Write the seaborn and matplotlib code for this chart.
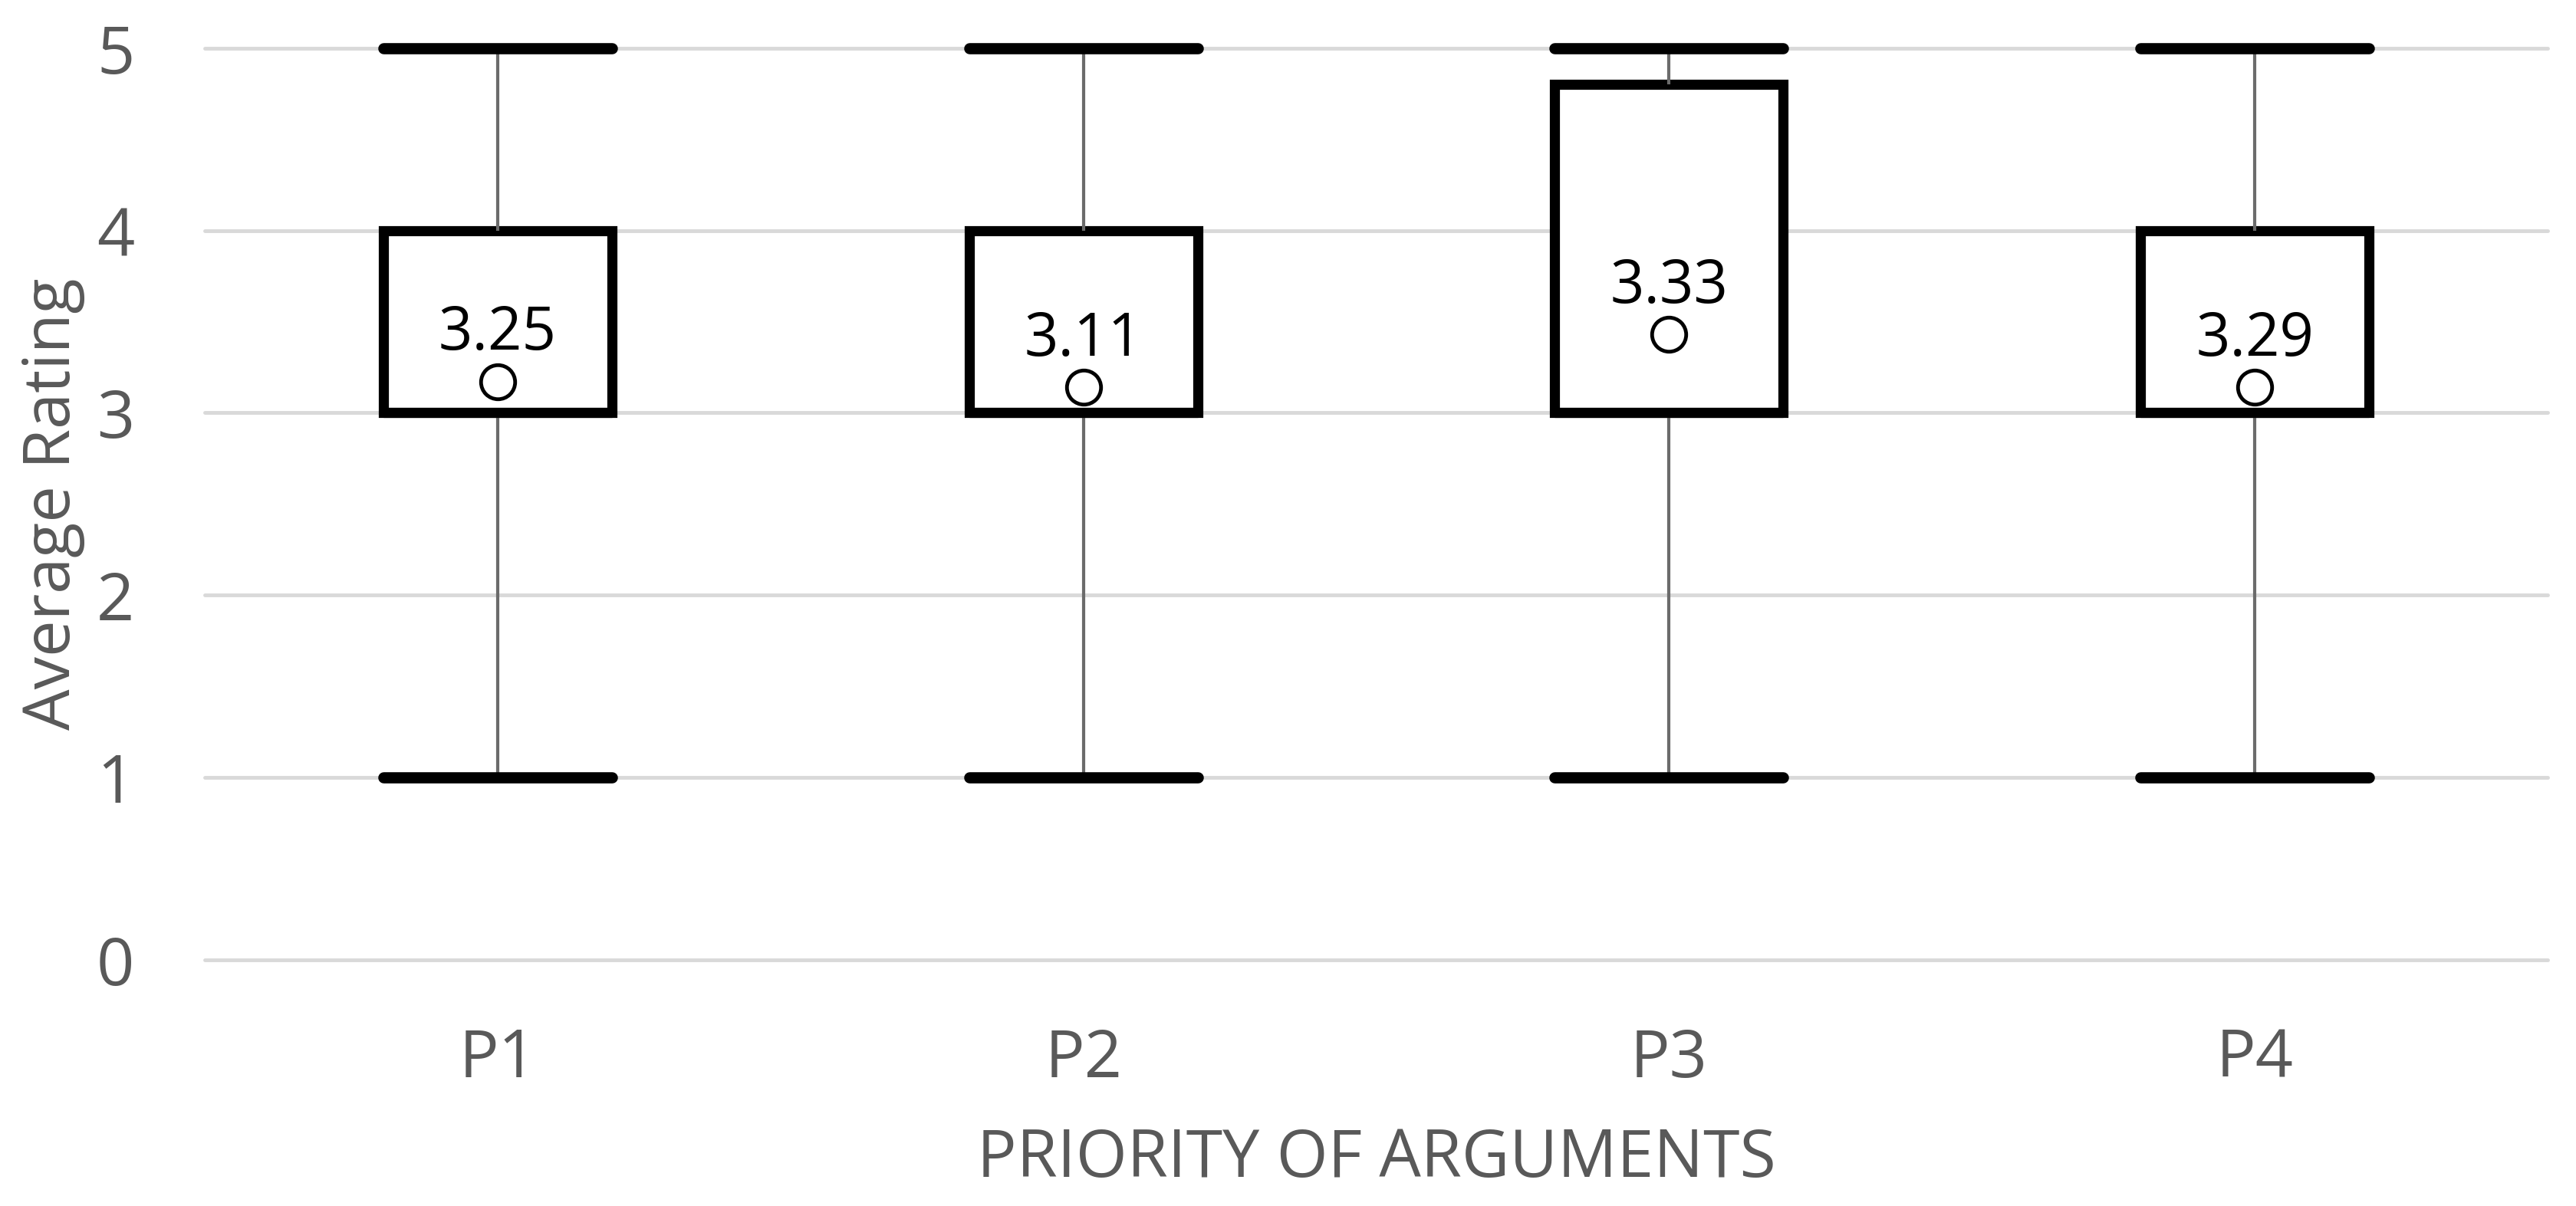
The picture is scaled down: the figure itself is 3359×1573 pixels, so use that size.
import matplotlib.pyplot as plt
import pandas as pd
import seaborn as sns

# five-number summaries
priorities = ["P1", "P2", "P3", "P4"]
lows = [1, 1, 1, 1]
q1s = [3, 3, 3, 3]
medians = [3, 3, 3, 3]
q3s = [4, 4, 4.8, 4]
highs = [5, 5, 5, 5]

# mean markers and the values printed above them
means = [3.17, 3.14, 3.43, 3.14]
mean_labels = ["3.25", "3.11", "3.33", "3.29"]

table = {"priority": [], "rating": []}
for i, p in enumerate(priorities):
    for v in (lows[i], q1s[i], medians[i], q3s[i], highs[i]):
        table["priority"].append(p)
        table["rating"].append(v)
df = pd.DataFrame(table)

sns.set_theme(style="whitegrid")
plt.rcParams["font.family"] = ["Open Sans", "DejaVu Sans"]

fig = plt.figure(figsize=(33.59, 15.73), dpi=100)
ax = fig.add_axes([0.0795, 0.2041, 0.9095, 0.7635])

sns.boxplot(data=df, x="priority", y="rating", order=priorities,
            whis=(0, 100), width=0.39, color="white", linecolor="black",
            linewidth=9.5, showfliers=False,
            whiskerprops=dict(color="#6b6b6b", linewidth=3),
            capprops=dict(color="black", linewidth=10.5),
            capwidths=0.39, ax=ax)

sns.stripplot(x=priorities, y=means, order=priorities, jitter=False, size=32,
              color="white", edgecolor="black", linewidth=3.5, zorder=4, ax=ax)

for i, (m, lab) in enumerate(zip(means, mean_labels)):
    ax.annotate(lab, xy=(i, m), xytext=(0, 30), textcoords="offset points",
                ha="center", va="baseline", fontsize=56, color="black", zorder=5)

ax.set_xlim(-0.5, 3.5)
ax.set_ylim(0, 5.05)
ax.set_yticks(range(6))
ax.grid(axis="y", color="#d9d9d9", linewidth=3.5)
ax.grid(axis="x", visible=False)
for g in ax.yaxis.get_gridlines():
    g.set_clip_on(False)
sns.despine(ax=ax, left=True, bottom=True)
ax.tick_params(axis="both", length=0, labelsize=62, labelcolor="#595959")
ax.tick_params(axis="y", pad=66)
ax.tick_params(axis="x", pad=63)
ax.set_xlabel("PRIORITY OF ARGUMENTS", fontsize=62, color="#595959")
ax.set_ylabel("Average Rating", fontsize=61, color="#595959")
ax.xaxis.set_label_coords(0.5, -0.1815)
ax.yaxis.set_label_coords(-0.051, 0.495)

fig.savefig("out.png", dpi=100)
